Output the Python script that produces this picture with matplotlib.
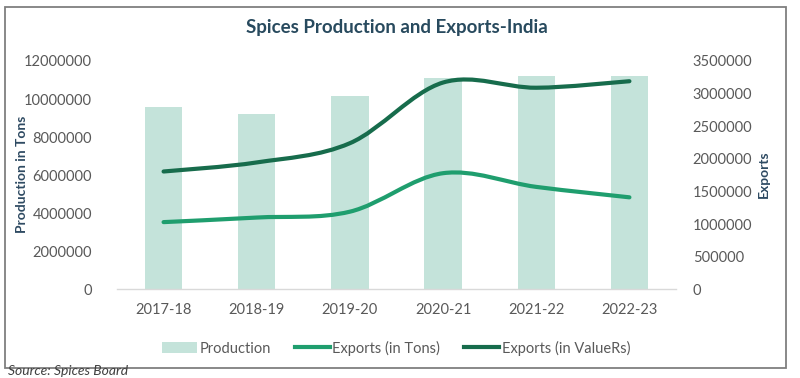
import matplotlib
matplotlib.use('Agg')
import matplotlib.pyplot as plt
from matplotlib.path import Path
from matplotlib.patches import PathPatch, Rectangle, Patch
from matplotlib.lines import Line2D
from matplotlib.ticker import FuncFormatter

years = ['2017-18', '2018-19', '2019-20', '2020-21', '2021-22', '2022-23']
production = [9600000, 9230000, 10170000, 11100000, 11190000, 11190000]
exports_tons = [1030000, 1100000, 1190000, 1780000, 1570000, 1410000]
exports_value = [1806000, 1945000, 2240000, 3170000, 3090000, 3190000]

left_ticks = [0, 2000000, 4000000, 6000000, 8000000, 10000000, 12000000]
right_ticks = [0, 500000, 1000000, 1500000, 2000000, 2500000, 3000000, 3500000]

BAR_C = '#c4e3da'
LIGHT_C = '#1f9e6e'
DARK_C = '#176c4c'
TEXT_C = '#595959'
TITLE_C = '#284a5e'

plt.rcParams['font.family'] = ['Lato', 'DejaVu Sans']

W, H = 800, 378
fig = plt.figure(figsize=(8, 3.78), dpi=100)
ax = fig.add_axes([117 / W, 1 - 289.3 / H, (676 - 117) / W, (289.3 - 61) / H])
ax2 = ax.twinx()

x = list(range(len(years)))
ax.bar(x, production, width=0.4, color=BAR_C, zorder=1)
ax.set_xlim(-0.5, len(years) - 0.5)
ax.set_ylim(0, 12000000)
ax.set_yticks(left_ticks)
ax2.set_ylim(0, 3500000)
ax2.set_yticks(right_ticks)
fmt = FuncFormatter(lambda v, p: f'{int(v)}')
ax.yaxis.set_major_formatter(fmt)
ax2.yaxis.set_major_formatter(fmt)
ax.set_xticks(x)
ax.set_xticklabels(years)

for a in (ax, ax2):
    for s in a.spines.values():
        s.set_visible(False)
    a.tick_params(length=0, labelsize=10.5, labelcolor=TEXT_C)
ax.spines['bottom'].set_visible(True)
ax.spines['bottom'].set_color('#d9d9d9')
ax.spines['bottom'].set_linewidth(1.0)
ax.tick_params(axis='y', pad=18)
ax.tick_params(axis='x', pad=10)
ax2.tick_params(axis='y', pad=12)


def smooth_path(xs, ys):
    pts = list(zip(xs, ys))
    n = len(pts)
    verts = [pts[0]]
    codes = [Path.MOVETO]
    for i in range(n - 1):
        p0 = pts[i - 1] if i > 0 else pts[i]
        p1 = pts[i]
        p2 = pts[i + 1]
        p3 = pts[i + 2] if i + 2 < n else pts[i + 1]
        c1 = (p1[0] + (p2[0] - p0[0]) / 6, p1[1] + (p2[1] - p0[1]) / 6)
        c2 = (p2[0] - (p3[0] - p1[0]) / 6, p2[1] - (p3[1] - p1[1]) / 6)
        verts += [c1, c2, p2]
        codes += [Path.CURVE4] * 3
    return Path(verts, codes)


for ys, c in ((exports_tons, LIGHT_C), (exports_value, DARK_C)):
    pp = PathPatch(smooth_path(x, ys), fill=False, edgecolor=c, lw=3.0,
                   capstyle='round', joinstyle='round', zorder=3)
    ax2.add_patch(pp)

fig.text(397 / W, 1 - 28 / H, 'Spices Production and Exports-India', ha='center', va='center',
         fontsize=13.5, fontweight='bold', color=TITLE_C)
fig.text(22 / W, 1 - 174 / H, 'Production in Tons', ha='center', va='center', rotation=90,
         fontsize=10, fontweight='bold', color='#2e4a62')
fig.text(764 / W, 1 - 174 / H, 'Exports', ha='center', va='center', rotation=90,
         fontsize=10, fontweight='bold', color='#2e4a62')

handles = [Patch(facecolor=BAR_C, edgecolor='none'),
           Line2D([0], [0], color=LIGHT_C, lw=3),
           Line2D([0], [0], color=DARK_C, lw=3)]
labels = ['Production', 'Exports (in Tons)', 'Exports (in ValueRs)']
leg = fig.legend(handles, labels, loc='center', bbox_to_anchor=(396 / W, 1 - 348 / H), ncol=3,
                 frameon=False, fontsize=10.5, handlelength=2.4, handletextpad=0.2,
                 columnspacing=1.6)
for t in leg.get_texts():
    t.set_color(TEXT_C)

fig.patches.append(Rectangle((5 / W, 1 - 368 / H), 781 / W, 361 / H, transform=fig.transFigure,
                             fill=False, edgecolor='#7f7f7f', lw=1.3))
fig.text(8 / W, 1 - 375 / H, 'Source: Spices Board', ha='left', va='baseline', fontsize=10,
         style='italic', color='#404040')

fig.savefig('out.png', dpi=100)
